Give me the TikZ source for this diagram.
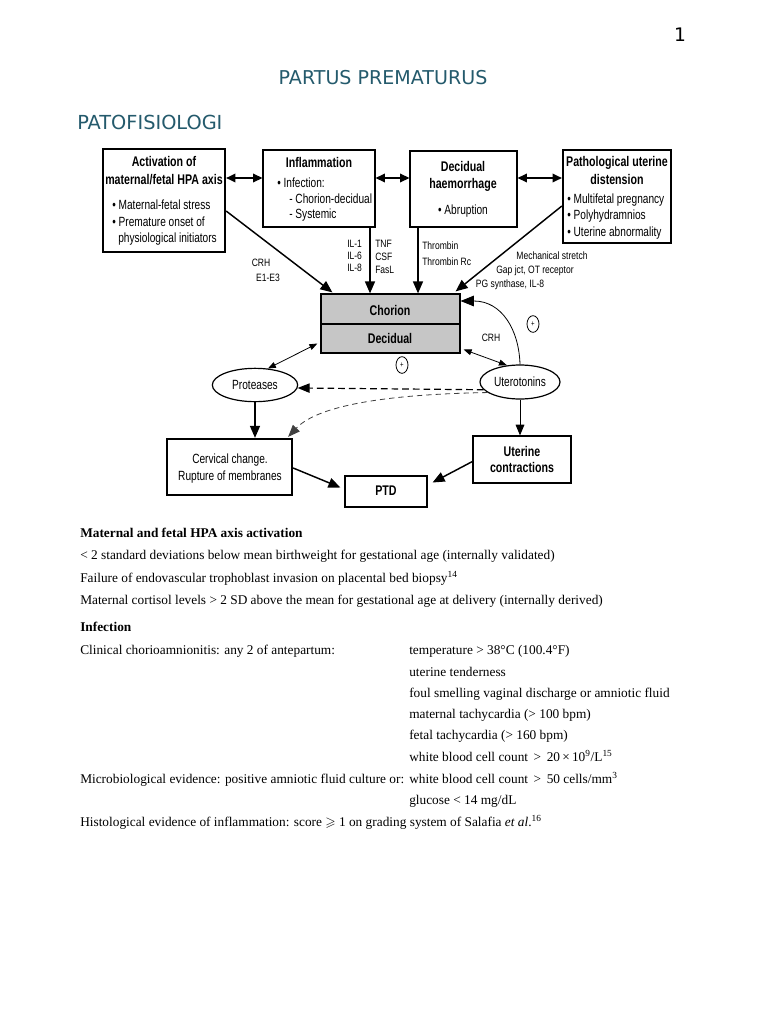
\documentclass[tikz,border=0pt]{standalone}
\usepackage{fontspec}
\usepackage{amssymb}
\setmainfont{Liberation Serif}
\newfontfamily\hdfont{DejaVu Sans}
\newfontfamily\dgfont[FakeStretch=0.76]{Liberation Sans}
\newfontfamily\lbfont[FakeStretch=0.8]{Liberation Sans}
\usetikzlibrary{arrows.meta,calc,shapes.geometric,fit}
\definecolor{hd}{HTML}{245A6C}
\begin{document}
\begin{tikzpicture}[x=0.75pt,y=-0.75pt,
  box/.style={draw,line width=0.9pt,inner sep=0pt},
  thickbox/.style={draw,line width=1.7pt,inner sep=0pt},
  lab/.style={font=\lbfont\fontsize{8}{9}\selectfont,inner sep=0pt,text height=0.66em,text depth=0pt},
  ttl/.style={font=\dgfont\bfseries\fontsize{10.5}{12}\selectfont,inner sep=0pt,text height=0.66em,text depth=0pt},
  txt/.style={font=\dgfont\fontsize{10}{11}\selectfont,inner sep=0pt,text height=0.66em,text depth=0pt},
  arr/.style={line width=1.1pt,-{Triangle[length=9pt,width=7.5pt]}},
  arrthin/.style={line width=0.7pt,-{Triangle[length=8pt,width=6.5pt]}},
  darr/.style={line width=1.1pt,{Triangle[length=7pt,width=6.5pt]}-{Triangle[length=7pt,width=6.5pt]}},
  tarr/.style={line width=0.6pt,{Triangle[length=6pt,width=4.5pt]}-{Triangle[length=6pt,width=4.5pt]}},
  body/.style={font=\fontsize{10}{12}\selectfont,anchor=base west,inner sep=0pt},
  pl/.style={draw,ellipse,line width=0.6pt,minimum width=9pt,minimum height=12.5pt,inner sep=0pt,font=\dgfont\fontsize{6}{6}\selectfont},
]
\fill[white] (0,0) rectangle (768,1024);
\path[use as bounding box] (0,0) rectangle (768,1024);

% header
\node[font=\hdfont\fontsize{14}{16}\selectfont,inner sep=0pt] (pg) at (680,35) {1};
\node[font=\hdfont\fontsize{14.3}{16}\selectfont,text=hd,inner sep=0pt] (title) at (383,78) {PARTUS PREMATURUS};
\node[font=\hdfont\fontsize{14.5}{16}\selectfont,text=hd,inner sep=0pt,anchor=west] (sub) at (77,122) {PATOFISIOLOGI};

% top boxes
\node[thickbox,fit={(103,149) (225,252)}] (A) {};
\node[box,fit={(263,150) (375,227)}] (B) {};
\node[box,fit={(410,151) (517,227)}] (C) {};
\node[thickbox,fit={(563,150) (671,243)}] (D) {};

\node[ttl] (a1) at (164,162) {Activation of};
\node[ttl] (a2) at (164,180) {maternal/fetal HPA axis};
\node[txt,anchor=west] (a3) at (112,205) {• Maternal-fetal stress};
\node[txt,anchor=west] (a4) at (112,222) {• Premature onset of};
\node[txt,anchor=west] (a5) at (118,238) {physiological initiators};

\node[ttl] (b1) at (319,163) {Inflammation};
\node[txt,anchor=west] (b2) at (277,183) {• Infection:};
\node[txt,anchor=west] (b3) at (289,199) {- Chorion-decidual};
\node[txt,anchor=west] (b4) at (289,214) {- Systemic};

\node[ttl] (c1) at (463,167) {Decidual};
\node[ttl] (c2) at (463,184) {haemorrhage};
\node[txt] (c3) at (463,210) {• Abruption};

\node[ttl] (d1) at (617,162) {Pathological uterine};
\node[ttl] (d2) at (617,180) {distension};
\node[txt,anchor=west] (d3) at (567,199) {• Multifetal pregnancy};
\node[txt,anchor=west] (d4) at (567,215) {• Polyhydramnios};
\node[txt,anchor=west] (d5) at (567,232) {• Uterine abnormality};

% chorion / decidual
\node[box,fill=gray!45,fit={(321,294) (460,324)}] (ch) {};
\node[box,fill=gray!45,fit={(321,324) (460,353)}] (de) {};
\node[ttl] (cht) at (390,311) {Chorion};
\node[ttl] (det) at (390,339) {Decidual};

% ellipses
\node[draw,ellipse,line width=0.9pt,minimum width=64pt,minimum height=25pt,inner sep=0pt,font=\dgfont\fontsize{10}{11}\selectfont] (P) at (255,385) {Proteases};
\node[draw,ellipse,line width=0.9pt,minimum width=60pt,minimum height=25.5pt,inner sep=0pt,font=\dgfont\fontsize{10}{11}\selectfont] (U) at (520,382) {Uterotonins};

% bottom boxes
\node[thickbox,fit={(167,439) (292,495)}] (cv) {};
\node[txt] (cv1) at (230,459) {Cervical change.};
\node[txt] (cv2) at (230,476) {Rupture of membranes};
\node[box,fit={(473,436) (571,483)}] (uc) {};
\node[ttl] (uc1) at (522,452) {Uterine};
\node[ttl] (uc2) at (522,468) {contractions};
\node[box,fit={(345,476) (427,507)}] (ptd) {};
\node[ttl] (ptdt) at (386,491) {PTD};

% labels
\node[lab] (l1) at (261,262) {CRH};
\node[lab] (l2) at (268,277) {E1-E3};
\node[lab,anchor=west] (l3) at (347,243) {IL-1};
\node[lab,anchor=west] (l4) at (347,255) {IL-6};
\node[lab,anchor=west] (l5) at (347,267) {IL-8};
\node[lab,anchor=west] (l6) at (375,243) {TNF};
\node[lab,anchor=west] (l7) at (375,256) {CSF};
\node[lab,anchor=west] (l8) at (375,269) {FasL};
\node[lab,anchor=west] (l9) at (422,245) {Thrombin};
\node[lab,anchor=west] (l10) at (422,261) {Thrombin Rc};
\node[lab] (l11) at (552,255) {Mechanical stretch};
\node[lab] (l12) at (535,269) {Gap jct, OT receptor};
\node[lab] (l13) at (510,283) {PG synthase, IL-8};
\node[lab] (l14) at (491,337) {CRH};
\node[pl] (p1) at (533,324) {+};
\node[pl] (p2) at (402,365) {+};

% helper coordinates
\coordinate (r1) at (0,178);
\coordinate (yA) at (0,211);
\coordinate (yD) at (0,206);
\coordinate (x370) at (370,0);
\coordinate (x418) at (418,0);
\coordinate (yc) at (0,301);

% connectors
\draw[darr] (A.east |- r1) -- (B.west |- r1);
\draw[darr] (B.east |- r1) -- (C.west |- r1);
\draw[darr] (C.east |- r1) -- (D.west |- r1);
\draw[arr] (A.east |- yA) -- ($(ch.north west)+(12,-1)$);
\draw[arr] (B.south -| x370) -- (ch.north -| x370);
\draw[arr] (C.south -| x418) -- (ch.north -| x418);
\draw[arr] (D.west |- yD) -- ($(ch.north east)+(-5,-2)$);
\draw[line width=0.6pt,-{Triangle[length=10pt,width=8pt]}] (U.north) .. controls (519,330) and (502,301) .. (ch.east |- yc);
\draw[tarr] ($(de.west)+(-3,5)$) -- (P.52);
\draw[tarr] ($(de.east)+(3,11)$) -- (U.128);
\draw[line width=0.9pt,dash pattern=on 5pt off 3pt,-{Triangle[length=9pt,width=7pt]}] (U.192) -- (P.356);
\draw[line width=0.6pt,dash pattern=on 4pt off 3pt,black!75,-{Triangle[length=9pt,width=7pt]}] (U.198) .. controls (400,394) and (320,403) .. ($(cv.north east)+(-5,-1)$);
\draw[arr] (P.south) -- (cv.north -| P.south);
\draw[arrthin] (U.south) -- (uc.north -| U.south);
\draw[arr] ($(cv.east)+(0,1)$) -- ($(ptd.west)+(-4,-4)$);
\draw[arr] ($(uc.west)+(0,2)$) -- ($(ptd.east)+(5,-9)$);

% text block
\node[body] (t1) at (80,537) {\textbf{Maternal and fetal HPA axis activation}};
\node[body] (t2) at (80,559) {< 2 standard deviations below mean birthweight for gestational age (internally validated)};
\node[body] (t3) at (80,582) {Failure of endovascular trophoblast invasion on placental bed biopsy\textsuperscript{14}};
\node[body] (t4) at (80,604) {Maternal cortisol levels > 2 SD above the mean for gestational age at delivery (internally derived)};
\node[body] (t5) at (80,631) {\textbf{Infection}};
\node[body] (t6) at (80,654) {Clinical chorioamnionitis: any 2 of antepartum:};
\node[body] (s1) at (409,654) {temperature > 38°C (100.4°F)};
\node[body] (s2) at (409,676) {uterine tenderness};
\node[body] (s3) at (409,697) {foul smelling vaginal discharge or amniotic fluid};
\node[body] (s4) at (409,718) {maternal tachycardia (> 100 bpm)};
\node[body] (s5) at (409,739) {fetal tachycardia (> 160 bpm)};
\node[body] (s6) at (409,761) {white blood cell count \,>\, 20\,×\,10\textsuperscript{9}/L\textsuperscript{15}};
\node[body] (t7) at (80,783) {Microbiological evidence: positive amniotic fluid culture or:};
\node[body] (s7) at (409,783) {white blood cell count \,>\, 50 cells/mm\textsuperscript{3}};
\node[body] (s8) at (409,804) {glucose < 14 mg/dL};
\node[body] (t8) at (80,826) {Histological evidence of inflammation: score $\geqslant$ 1 on grading system of Salafia \textit{et al}.\textsuperscript{16}};
\end{tikzpicture}
\end{document}
